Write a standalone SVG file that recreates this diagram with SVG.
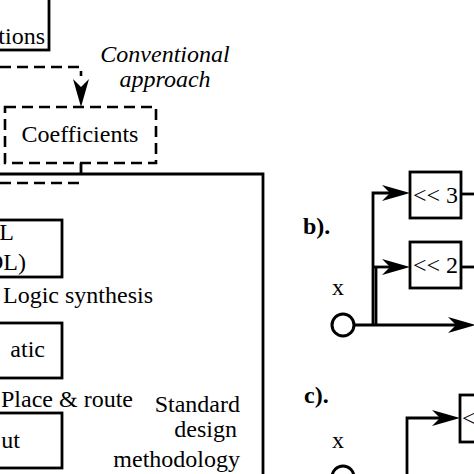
<svg xmlns="http://www.w3.org/2000/svg" width="474" height="474" viewBox="0 0 474 474" font-family="'Liberation Serif', 'Times New Roman', serif" font-size="24">
<style>
text{font-family:'Liberation Serif','Times New Roman',serif;font-size:24px;fill:#000}
.b{font-weight:bold}
.i{font-style:italic}
.box{fill:none;stroke:#000;stroke-width:2.8}
.dbox{fill:none;stroke:#000;stroke-width:2.6;stroke-dasharray:11 6}
.ln{fill:none;stroke:#000;stroke-width:2.8}
.dln{fill:none;stroke:#000;stroke-width:2.6;stroke-dasharray:11 6}
.ah{fill:#000;stroke:none}
</style>
<defs>
<path id="arr" d="M0,0 L-28,-8 L-20,0 L-28,8 Z"/>
</defs>

<g id="node-top">
<rect class="box" x="-20" y="-10" width="69" height="60"/>
<text x="45" y="44" text-anchor="end">tions</text>
</g>

<g id="label-conventional">
<text class="i" x="165" y="62" text-anchor="middle">Conventional</text>
<text class="i" x="165" y="87" text-anchor="middle">approach</text>
</g>

<g id="node-coefficients">
<rect class="dbox" x="5" y="107" width="151" height="56"/>
<text x="80" y="142" text-anchor="middle">Coefficients</text>
</g>

<g id="node-hdl">
<rect class="box" x="-30" y="220" width="92" height="57"/>
<text x="14" y="240" text-anchor="end">L</text>
<text x="26" y="270" text-anchor="end">DL)</text>
</g>

<g id="node-schematic">
<rect class="box" x="-30" y="323" width="92" height="55"/>
<text x="45" y="357" text-anchor="end">atic</text>
</g>

<g id="node-layout">
<rect class="box" x="-30" y="413" width="92" height="55"/>
<text x="20" y="448" text-anchor="end">ut</text>
</g>

<g id="labels-left">
<text x="3" y="303">Logic synthesis</text>
<text x="1" y="407">Place &amp; route</text>
<text x="240" y="412" text-anchor="end">Standard</text>
<text x="237" y="437" text-anchor="end">design</text>
<text x="240" y="467" text-anchor="end">methodology</text>
</g>

<g id="node-shift3">
<rect class="box" x="410" y="172" width="51" height="46"/>
<text x="413" y="203">&lt;&lt; 3</text>
</g>

<g id="node-shift2">
<rect class="box" x="410" y="242" width="51" height="46"/>
<text x="413" y="273">&lt;&lt; 2</text>
</g>

<g id="node-x-b">
<circle cx="343" cy="325" r="11" fill="#fff" stroke="#000" stroke-width="3"/>
<text x="338" y="295" text-anchor="middle">x</text>
</g>

<g id="node-shift-c">
<rect class="box" x="460" y="395" width="40" height="47"/>
<text x="462" y="426">&lt;</text>
</g>

<g id="node-x-c">
<circle cx="343" cy="477" r="11" fill="#fff" stroke="#000" stroke-width="3"/>
<text x="338" y="448" text-anchor="middle">x</text>
</g>

<g id="labels-right">
<text class="b" x="303" y="234">b).</text>
<text class="b" x="304" y="403">c).</text>
</g>

<g id="connectors">
<path class="dln" d="M0,67 H81 V76"/>
<use href="#arr" class="ah" transform="translate(81,107) rotate(90)"/>
<path class="ln" d="M81,163 V174"/>
<path class="ln" d="M0,174 H263 V474"/>
<path class="dln" d="M0,183 H83"/>

<path class="ln" d="M373,325 V193 H400"/>
<use href="#arr" class="ah" transform="translate(410,193)"/>
<path class="ln" d="M373,267 H400"/>
<use href="#arr" class="ah" transform="translate(410,267)"/>
<path class="ln" d="M376,267 V325"/>
<path class="ln" d="M354,325 H466"/>
<use href="#arr" class="ah" transform="translate(476,325)"/>
<path class="ln" d="M461,194 H474"/>
<path class="ln" d="M461,267 H474"/>

<path class="ln" d="M407,474 V418 H450"/>
<use href="#arr" class="ah" transform="translate(460,418)"/>
</g>
</svg>
